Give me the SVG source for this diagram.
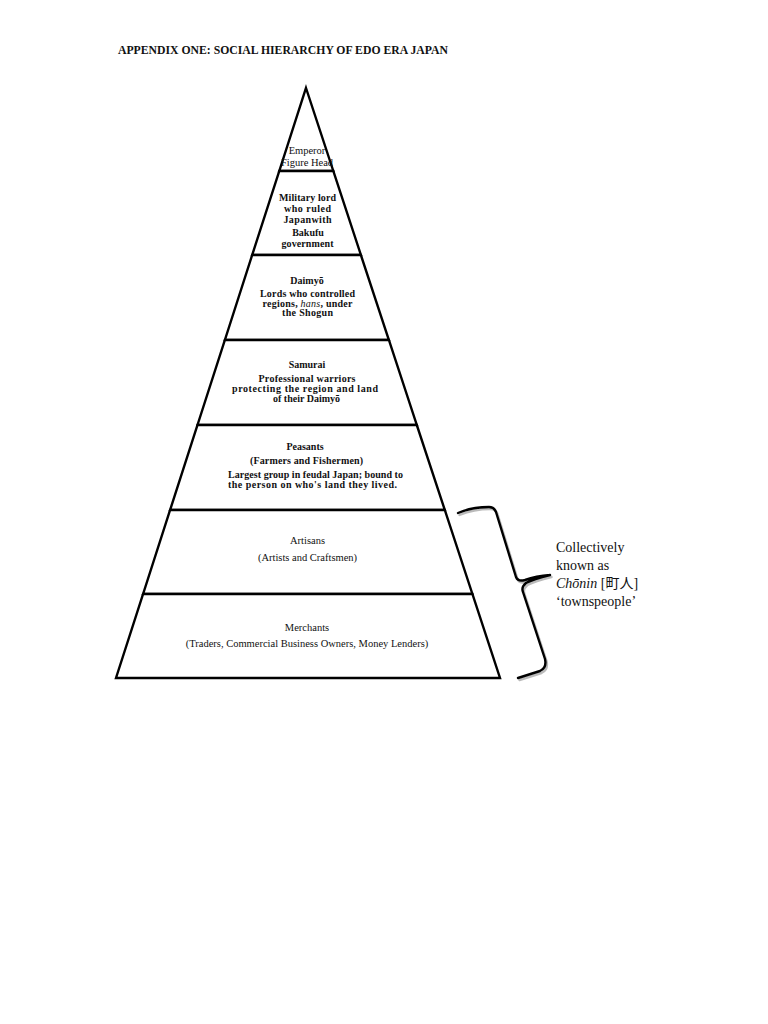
<svg xmlns="http://www.w3.org/2000/svg" width="768" height="1024" viewBox="0 0 768 1024">
<style>
.band{fill:#fff;stroke:#000;stroke-width:2.4;stroke-linejoin:miter}
.t{font-family:"Liberation Serif",serif;font-size:10.5px;fill:#111;text-anchor:middle}
.c{font-family:"Liberation Serif",serif;font-size:10px;font-weight:bold;fill:#111;text-anchor:middle}
.lab{font-family:"Liberation Serif","Noto Sans CJK JP",serif;font-size:14px;fill:#111}
.brace{fill:none;stroke:#000;stroke-width:2.4;stroke-linecap:round;stroke-linejoin:round}
.shadow{fill:none;stroke:#bbb;stroke-width:2.4;stroke-linecap:round;stroke-linejoin:round}
</style>
<rect width="768" height="1024" fill="#fff"/>
<text x="118" y="54" font-family="Liberation Serif, serif" font-size="11.5" font-weight="bold" fill="#111" textLength="330" lengthAdjust="spacingAndGlyphs">APPENDIX ONE: SOCIAL HIERARCHY OF EDO ERA JAPAN</text>

<g id="emperor">
<polygon class="band" points="306,88 333.3,171 279.3,171"/>
<text class="t" x="307" y="154">Emperor</text>
<text class="t" x="307" y="166">Figure Head</text>
</g>
<g id="shogun">
<polygon class="band" points="279.3,171 333.3,171 360.9,255 252.2,255"/>
<text class="c" x="307.5" y="201" textLength="57" lengthAdjust="spacing">Military lord</text>
<text class="c" x="307.5" y="212" textLength="47" lengthAdjust="spacing">who ruled</text>
<text class="c" x="307.5" y="223" textLength="48" lengthAdjust="spacing">Japanwith</text>
<text class="c" x="308" y="236">Bakufu</text>
<text class="c" x="307.5" y="247" textLength="52" lengthAdjust="spacing">government</text>
</g>
<g id="daimyo">
<polygon class="band" points="252.2,255 360.9,255 388.9,340 224.9,340"/>
<text class="c" x="307" y="284">Daimyō</text>
<text class="c" x="307.5" y="297" textLength="95" lengthAdjust="spacing">Lords who controlled</text>
<text class="c" x="307.5" y="307" textLength="90" lengthAdjust="spacing">regions, <tspan font-style="italic" font-weight="normal">hans</tspan>, under</text>
<text class="c" x="307.5" y="316" textLength="51" lengthAdjust="spacing">the Shogun</text>
</g>
<g id="samurai">
<polygon class="band" points="224.9,340 388.9,340 416.8,425 197.5,425"/>
<text class="c" x="307" y="368">Samurai</text>
<text class="c" x="307" y="382" textLength="97" lengthAdjust="spacing">Professional warriors</text>
<text class="c" x="305" y="391.5" textLength="146" lengthAdjust="spacing">protecting the region and land</text>
<text class="c" x="306.5" y="401.5" textLength="67" lengthAdjust="spacing">of their Daimyō</text>
</g>
<g id="peasants">
<polygon class="band" points="197.5,425 416.8,425 444.8,510 170.1,510"/>
<text class="c" x="305" y="450">Peasants</text>
<text class="c" x="306.5" y="464" textLength="113" lengthAdjust="spacing">(Farmers and Fishermen)</text>
<text class="c" x="315.5" y="478" textLength="175" lengthAdjust="spacing">Largest group in feudal Japan; bound to</text>
<text class="c" x="312.5" y="487.5" textLength="169" lengthAdjust="spacing">the person on who's land they lived.</text>
</g>
<g id="artisans">
<polygon class="band" points="170.1,510 444.8,510 472.4,594 143.1,594"/>
<text class="t" x="307.5" y="544">Artisans</text>
<text class="t" x="307.5" y="561">(Artists and Craftsmen)</text>
</g>
<g id="merchants">
<polygon class="band" points="143.1,594 472.4,594 500,678 116,678"/>
<text class="t" x="307" y="631">Merchants</text>
<text class="t" x="307" y="647">(Traders, Commercial Business Owners, Money Lenders)</text>
</g>

<g id="connectors">
<path class="shadow" transform="translate(1.5,2)" d="M458,513 Q472,507 489,507 Q494,507 496,512 L516,577 Q518,582 525,580 Q536,576 550,575 M550,575 Q533,579 526,583 Q521,587 523,592 L545,659 Q547,668 540,671 L518,678"/>
<path class="brace" d="M458,513 Q472,507 489,507 Q494,507 496,512 L516,577 Q518,582 525,580 Q536,576 550,575 M550,575 Q533,579 526,583 Q521,587 523,592 L545,659 Q547,668 540,671 L518,678"/>
</g>

<g id="chonin-label">
<text class="lab" x="556" y="552">Collectively</text>
<text class="lab" x="556" y="570">known as</text>
<text class="lab" x="556" y="588"><tspan font-style="italic">Chōnin</tspan> [町人]</text>
<text class="lab" x="556" y="606">‘townspeople’</text>
</g>
</svg>
